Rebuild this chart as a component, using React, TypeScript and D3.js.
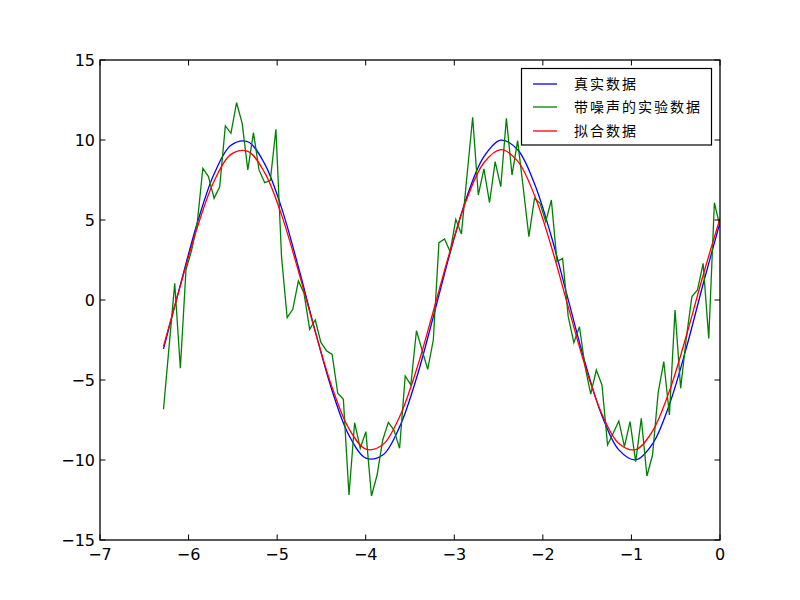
import React from "react";
import * as d3 from "d3";

// x grid: 100 samples from -2π to 0
const N = 100;
const xs: number[] = d3.range(N).map((i) => -2 * Math.PI + (i * 2 * Math.PI) / (N - 1));

const noisy: number[] = [
  -6.83, -2.9, 1.04, -4.27, 1.88, 3.1, 4.79, 8.23, 7.71, 6.35,
  7.08, 10.88, 10.42, 12.33, 11.04, 8.13, 10.46, 8.13, 7.33, 7.46,
  10.67, 2.7, -1.1, -0.58, 1.19, 0.42, -1.83, -1.25, -2.65, -3.17,
  -3.4, -5.83, -6.21, -12.19, -7.67, -9.27, -8.23, -12.25, -10.94, -8.75,
  -7.65, -8.13, -9.27, -4.75, -5.31, -1.92, -3.13, -4.33, -2.5, 3.58,
  3.82, 3.02, 5.04, 4.13, 7.8, 11.42, 6.56, 8.19, 6.08, 8.65,
  7.08, 11.35, 7.81, 9.96, 7.0, 3.96, 6.35, 6.04, 4.9, 6.25,
  2.4, 2.6, -1.04, -2.67, -1.67, -4.17, -5.88, -4.38, -5.31, -9.06,
  -8.33, -7.56, -9.17, -7.6, -10.1, -7.4, -11.0, -9.69, -5.79, -3.85,
  -7.19, -0.63, -5.52, -2.4, 0.21, 0.63, 2.29, -2.4, 6.08, 4.58,
];

// smooth curves read at every 3rd grid sample (indices 0,3,...,99)
const smoothIdx: number[] = d3.range(0, N, 3);
const trueVals: number[] = [
  -3.05, 0.95, 4.8, 7.87, 9.67, 9.89, 8.51, 5.76, 2.06, -1.96,
  -5.67, -8.46, -9.88, -9.69, -7.93, -4.89, -1.05, 2.96, 6.49, 8.96,
  9.99, 9.39, 7.27, 3.97, 0.02, -3.92, -7.23, -9.37, -9.99, -8.99,
  -6.53, -3.01, 1.0, 4.84,
];
const fitVals: number[] = [
  -2.9, 0.88, 4.52, 7.42, 9.1, 9.29, 7.96, 5.32, 1.81, -1.99,
  -5.47, -8.05, -9.32, -9.05, -7.3, -4.36, -0.7, 3.08, 6.35, 8.58,
  9.4, 8.68, 6.54, 3.33, -0.43, -4.12, -7.13, -8.97, -9.35, -8.19,
  -5.69, -2.25, 1.55, 5.1,
];

const xTicks: number[] = [-7, -6, -5, -4, -3, -2, -1, 0];
const yTicks: number[] = [-15, -10, -5, 0, 5, 10, 15];
const legendLabels: string[] = ["真实数据", "带噪声的实验数据", "拟合数据"];
const colors: string[] = ["#0000ff", "#008000", "#ff0000"];

const fmt = (v: number) => (v < 0 ? "\u2212" + Math.abs(v) : String(v));

export default function App() {
  const W = 800, H = 600;
  const L = 100, R = 720, T = 60, B = 540;
  const x = d3.scaleLinear().domain([-7, 0]).range([L, R]);
  const y = d3.scaleLinear().domain([-15, 15]).range([B, T]);

  const lineRaw = d3.line<[number, number]>().x((d) => x(d[0])).y((d) => y(d[1]));
  const lineSmooth = d3
    .line<[number, number]>()
    .x((d) => x(d[0]))
    .y((d) => y(d[1]))
    .curve(d3.curveCatmullRom.alpha(0.5));

  const noisyPts = xs.map((xv, i) => [xv, noisy[i]] as [number, number]);
  const truePts = smoothIdx.map((i, k) => [xs[i], trueVals[k]] as [number, number]);
  const fitPts = smoothIdx.map((i, k) => [xs[i], fitVals[k]] as [number, number]);

  const tickLen = 5.5;
  const tickFont = "'DejaVu Sans', sans-serif";
  const lw = 1.3;

  const legX = 521.5, legY = 68.5, legW = 190, legH = 76.5;
  const rows = [84, 107, 131];

  return (
    <svg
      width={W}
      height={H}
      style={{ position: "absolute", left: 0, top: 0, background: "#fff" }}
    >
      <rect x={0} y={0} width={W} height={H} fill="#fff" />
      <defs>
        <clipPath id="plotclip">
          <rect x={L} y={T} width={R - L} height={B - T} />
        </clipPath>
      </defs>
      <g clipPath="url(#plotclip)" fill="none" strokeWidth={lw}>
        <path d={lineSmooth(truePts) || ""} stroke={colors[0]} />
        <path d={lineRaw(noisyPts) || ""} stroke={colors[1]} />
        <path d={lineSmooth(fitPts) || ""} stroke={colors[2]} />
      </g>
      {/* ticks */}
      <g stroke="#000" strokeWidth={1}>
        {xTicks.map((t) => (
          <g key={"xt" + t}>
            <line x1={x(t)} x2={x(t)} y1={B} y2={B - tickLen} />
            <line x1={x(t)} x2={x(t)} y1={T} y2={T + tickLen} />
          </g>
        ))}
        {yTicks.map((t) => (
          <g key={"yt" + t}>
            <line x1={L} x2={L + tickLen} y1={y(t)} y2={y(t)} />
            <line x1={R} x2={R - tickLen} y1={y(t)} y2={y(t)} />
          </g>
        ))}
      </g>
      <rect x={L} y={T} width={R - L} height={B - T} fill="none" stroke="#000" strokeWidth={lw} />
      <g fontFamily={tickFont} fontSize={16} fill="#000">
        {xTicks.map((t) => (
          <text key={"xl" + t} x={x(t)} y={B + 20} textAnchor="middle">
            {fmt(t)}
          </text>
        ))}
        {yTicks.map((t) => (
          <text key={"yl" + t} x={L - 5} y={y(t) + 6} textAnchor="end">
            {fmt(t)}
          </text>
        ))}
      </g>
      {/* legend */}
      <rect x={legX} y={legY} width={legW} height={legH} fill="#fff" stroke="#000" strokeWidth={1.2} />
      {legendLabels.map((lab, i) => (
        <g key={"lg" + i}>
          <line x1={533} x2={557} y1={rows[i]} y2={rows[i]} stroke={colors[i]} strokeWidth={lw} />
          <text
            x={574}
            y={rows[i] + 5}
            fontFamily="'Noto Sans CJK SC', sans-serif"
            fontSize={14}
            letterSpacing={2}
            fill="#000"
          >
            {lab}
          </text>
        </g>
      ))}
    </svg>
  );
}
